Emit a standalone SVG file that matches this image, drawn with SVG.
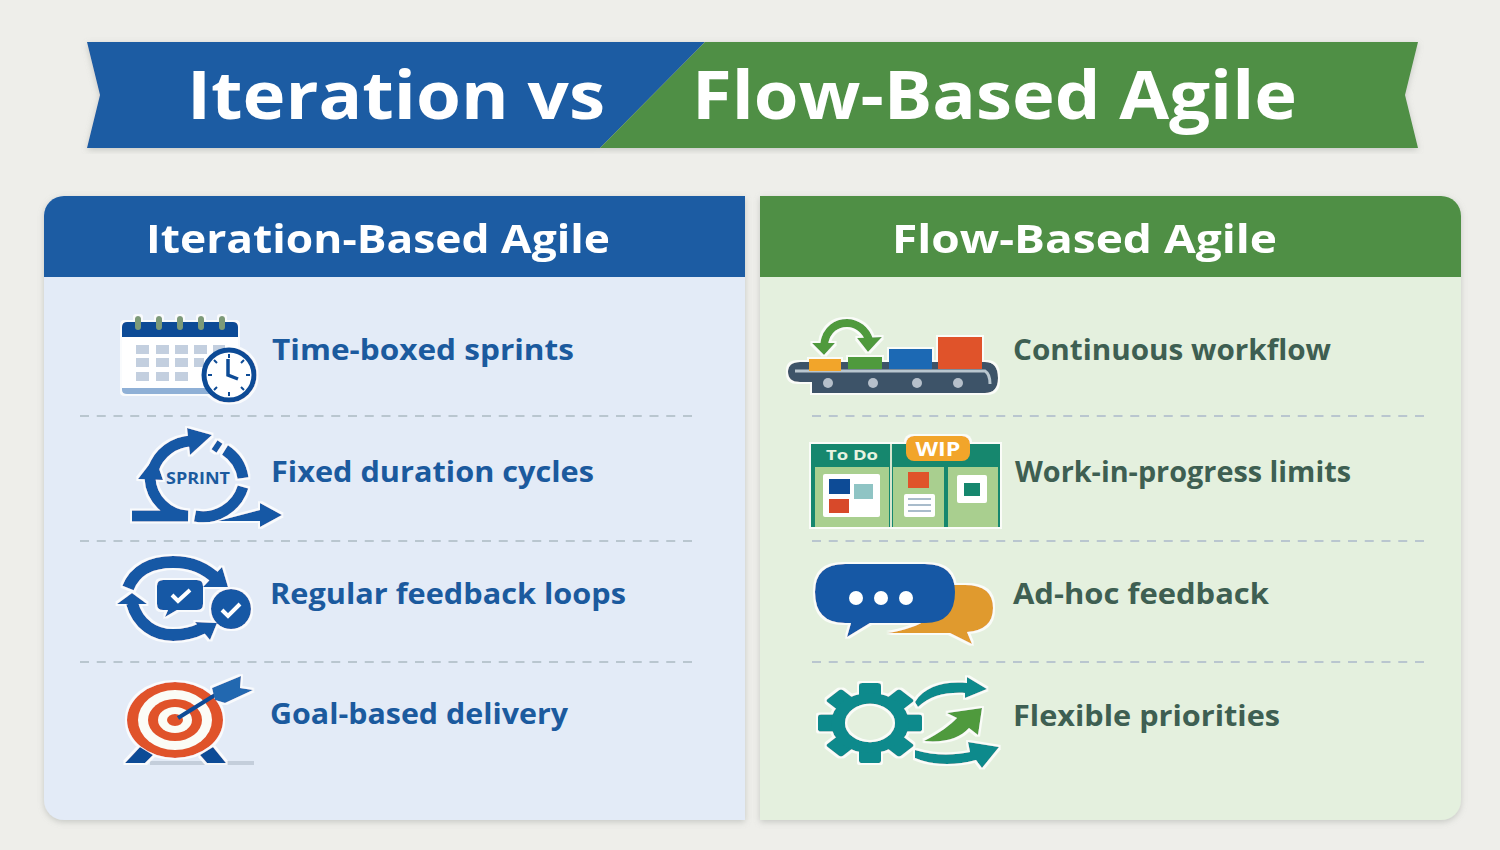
<svg xmlns="http://www.w3.org/2000/svg" xmlns:xlink="http://www.w3.org/1999/xlink" width="1500" height="850" viewBox="0 0 1500 850">
<style>
text{font-family:"Open Sans","Noto Sans","Liberation Sans",sans-serif;font-weight:700}
.title{font-size:66px;fill:#fff}
.head{font-size:39px;fill:#fff}
.lb{font-size:29px;fill:#1b5a9e}
.lg{font-size:29px;fill:#3e5f52}
.dash{fill:none;stroke:#b9c6cf;stroke-width:2;stroke-dasharray:9 7.75}
.blue{fill:#1459a5}
.navy{fill:#0f4c96}
.teal{fill:#0f8a8c}
.ln{fill:none;stroke-linecap:butt}
</style>
<defs>
<filter id="halo" x="-15%" y="-15%" width="130%" height="130%">
<feMorphology in="SourceAlpha" operator="dilate" radius="1.5" result="d"/>
<feFlood flood-color="#fff" flood-opacity="0.8"/>
<feComposite in2="d" operator="in" result="w"/>
<feMerge><feMergeNode in="w"/><feMergeNode in="SourceGraphic"/></feMerge>
</filter>
<filter id="sh" x="-5%" y="-5%" width="110%" height="110%">
<feDropShadow dx="0" dy="2" stdDeviation="3" flood-color="#8a8f8a" flood-opacity="0.4"/>
</filter>
<rect id="tooth" x="-11" y="-52" width="22" height="22" rx="3"/>
</defs>
<rect width="1500" height="850" fill="#eeeeea"/>

<g id="banner" filter="url(#sh)">
<polygon points="87,42 705,42 600,148 87,148 100,95" fill="#1b5ca3"/>
<polygon points="705,42 1418,42 1405,95 1418,148 600,148" fill="#4f8f45"/>
<text class="title" x="187" y="119" textLength="418" lengthAdjust="spacingAndGlyphs">Iteration vs</text>
<text class="title" x="692" y="119" textLength="605" lengthAdjust="spacingAndGlyphs">Flow-Based Agile</text>
</g>

<g id="panel-iteration" filter="url(#sh)">
<path d="M64,196H745V820H64A20,20 0 0 1 44,800V216A20,20 0 0 1 64,196Z" fill="#e3ebf7"/>
<path d="M64,196H745V277H44V216A20,20 0 0 1 64,196Z" fill="#1b5ca3"/>
<text class="head" x="146" y="253" textLength="464" lengthAdjust="spacingAndGlyphs">Iteration-Based Agile</text>
</g>
<g id="panel-flow" filter="url(#sh)">
<path d="M760,196H1441A20,20 0 0 1 1461,216V800A20,20 0 0 1 1441,820H760Z" fill="#e4f0de"/>
<path d="M760,196H1441A20,20 0 0 1 1461,216V277H760Z" fill="#4f8f45"/>
<text class="head" x="892" y="253" textLength="385" lengthAdjust="spacingAndGlyphs">Flow-Based Agile</text>
</g>

<g id="dividers">
<path class="dash" d="M80,416H692M80,541H692M80,662H692M812,416H1424M812,541H1424M812,662H1424"/>
</g>

<g id="item-time-boxed">
<g filter="url(#halo)">
<rect x="122" y="322" width="116" height="72" rx="5" fill="#fff"/>
<path d="M122,388H238V390Q238,394 233,394H127Q122,394 122,390Z" fill="#8fb0d6"/>
<path d="M127,322H233Q238,322 238,327V337H122V327Q122,322 127,322Z" class="navy"/>
<g fill="#c3cfdf">
<rect x="136" y="345" width="13" height="9"/><rect x="156" y="345" width="13" height="9"/><rect x="175" y="345" width="13" height="9"/><rect x="194" y="345" width="13" height="9"/><rect x="213" y="345" width="12" height="9"/>
<rect x="136" y="358" width="13" height="9"/><rect x="156" y="358" width="13" height="9"/><rect x="175" y="358" width="13" height="9"/><rect x="194" y="358" width="10" height="9"/>
<rect x="136" y="372" width="13" height="9"/><rect x="156" y="372" width="13" height="9"/><rect x="175" y="372" width="13" height="9"/>
</g>
<g fill="#7d9a78">
<rect x="135" y="316" width="6" height="14" rx="3"/><rect x="156" y="316" width="6" height="14" rx="3"/><rect x="177" y="316" width="6" height="14" rx="3"/><rect x="198" y="316" width="6" height="14" rx="3"/><rect x="219" y="316" width="6" height="14" rx="3"/>
</g>
<circle cx="229" cy="375" r="25" fill="#fff" stroke="#0f4c96" stroke-width="5"/>
<path d="M228,359V375L238,379" fill="none" stroke="#0f4c96" stroke-width="3.5"/>
<path d="M229,354v4M229,392v4M208,375h4M246,375h4M214,360l3,3M244,360l-3,3M214,390l3,-3M244,390l-3,-3" stroke="#0f4c96" stroke-width="2"/>
</g>
<text class="lb" x="272" y="360" textLength="302" lengthAdjust="spacingAndGlyphs">Time-boxed sprints</text>
</g>

<g id="item-fixed-duration">
<g filter="url(#halo)">
<path class="ln" d="M132,516H188A40,40 0 0 1 150,478" stroke="#1459a5" stroke-width="11"/>
<polygon points="138,479 155,457 163,480" class="blue"/>
<path class="ln" d="M153,470A42,42 0 0 1 192,441" stroke="#1459a5" stroke-width="11"/>
<polygon points="187,428 212,435 190,455" class="blue"/>
<path class="ln" d="M214,451L220,442" stroke="#1459a5" stroke-width="6"/>
<path class="ln" d="M225,450A40,40 0 0 1 243,478" stroke="#1459a5" stroke-width="11"/>
<path class="ln" d="M243,487A42,42 0 0 1 195,516" stroke="#1459a5" stroke-width="11"/>
<polygon points="218,521 260,510 260,503 282,515 260,527 260,521" class="blue"/>
</g>
<text x="198" y="484" text-anchor="middle" font-size="16" fill="#1b5a9e" textLength="64" lengthAdjust="spacingAndGlyphs">SPRINT</text>
<text class="lb" x="271" y="482" textLength="323" lengthAdjust="spacingAndGlyphs">Fixed duration cycles</text>
</g>

<g id="item-feedback-loops">
<g filter="url(#halo)">
<path class="ln" d="M128,588C135,570 152,562 173,562C192,562 205,568 218,580" stroke="#1459a5" stroke-width="12"/>
<polygon points="222,567 228,587 203,587" class="blue"/>
<path class="ln" d="M132,603C138,625 155,635 173,635C185,635 195,632 203,628" stroke="#1459a5" stroke-width="12"/>
<polygon points="195,622 217,623 210,640" class="blue"/>
<polygon points="132,593 117,604 147,604" class="blue"/>
<path d="M163,580H197Q203,580 203,586V604Q203,610 197,610H177L165,617L168,610H163Q157,610 157,604V586Q157,580 163,580Z" class="blue"/>
<path d="M172,595L178,601L190,590" fill="none" stroke="#fff" stroke-width="4"/>
<circle cx="231" cy="609" r="20" class="blue"/>
<path d="M222,610L228,616L240,604" fill="none" stroke="#fff" stroke-width="4"/>
</g>
<text class="lb" x="270" y="604" textLength="356" lengthAdjust="spacingAndGlyphs">Regular feedback loops</text>
</g>

<g id="item-goal-delivery">
<rect x="150" y="761" width="104" height="4" fill="#c4cedb"/>
<g filter="url(#halo)">
<polygon points="125,763 140,747 153,755 145,763" class="navy"/>
<polygon points="200,755 213,747 226,763 207,763" class="navy"/>
<ellipse cx="175" cy="720" rx="48" ry="38" fill="#e0522b"/>
<ellipse cx="175" cy="720" rx="37" ry="30" fill="#fbfcf6"/>
<ellipse cx="175" cy="720" rx="27" ry="21" fill="#e0522b"/>
<ellipse cx="175" cy="720" rx="17" ry="13" fill="#fbfcf6"/>
<ellipse cx="175" cy="720" rx="8" ry="6" fill="#e0522b"/>
<path d="M178,718L215,695" stroke="#0f4c96" stroke-width="4"/>
<polygon points="212,688 241,676 240,688 253,690 225,703 215,700" fill="#2468b0"/>
</g>
<text class="lb" x="270" y="724" textLength="298" lengthAdjust="spacingAndGlyphs">Goal-based delivery</text>
</g>

<g id="item-continuous-workflow">
<g filter="url(#halo)">
<path d="M800,362H985Q998,362 998,378Q998,393 985,393H812V382H800Q788,382 788,372Q788,362 800,362Z" fill="#3d5367"/>
<path d="M795,371H985Q990,374 990,384" fill="none" stroke="#b9c6cf" stroke-width="3"/>
<g fill="#b6c0cb"><circle cx="828" cy="383" r="5"/><circle cx="873" cy="383" r="5"/><circle cx="917" cy="383" r="5"/><circle cx="958" cy="383" r="5"/></g>
<rect x="809" y="359" width="32" height="12" fill="#f2a52a"/>
<rect x="848" y="357" width="34" height="12" fill="#4f9a3d"/>
<rect x="889" y="349" width="43" height="20" fill="#1f69b4"/>
<rect x="938" y="337" width="44" height="32" fill="#e0522b"/>
<path class="ln" d="M824,345C826,328 838,323 847,323C857,323 866,330 869,340" stroke="#4f9a3d" stroke-width="8"/>
<polygon points="812,343 835,343 824,355" fill="#4f9a3d"/>
<polygon points="857,338 882,337 868,352" fill="#4f9a3d"/>
</g>
<text class="lg" x="1013" y="360" textLength="318" lengthAdjust="spacingAndGlyphs">Continuous workflow</text>
</g>

<g id="item-wip-limits">
<g filter="url(#halo)">
<rect x="811" y="444" width="189" height="83" fill="#17876e"/>
<rect x="815" y="467" width="74" height="60" fill="#a9cf8f"/>
<rect x="893" y="467" width="51" height="60" fill="#a9cf8f"/>
<rect x="948" y="467" width="50" height="60" fill="#a9cf8f"/>
<rect x="890" y="444" width="2" height="83" fill="#d7e6cf"/>
<rect x="823" y="474" width="57" height="43" rx="2" fill="#fff"/>
<rect x="829" y="479" width="21" height="15" class="navy"/>
<rect x="854" y="484" width="19" height="15" fill="#8fc4c4"/>
<rect x="829" y="499" width="20" height="14" fill="#d8482a"/>
<rect x="908" y="472" width="21" height="16" fill="#e0522b"/>
<rect x="904" y="494" width="31" height="23" rx="2" fill="#fff"/>
<path d="M908,499H931M908,505H931M908,511H931" stroke="#a9bccb" stroke-width="2"/>
<rect x="957" y="475" width="30" height="28" rx="2" fill="#fff"/>
<rect x="964" y="483" width="16" height="13" fill="#17876e"/>
<rect x="906" y="436" width="64" height="25" rx="8" fill="#f2a52a"/>
</g>
<text x="852" y="460" text-anchor="middle" font-size="15" fill="#e8f3e0" textLength="52" lengthAdjust="spacingAndGlyphs">To Do</text>
<text x="938" y="456" text-anchor="middle" font-size="20" fill="#fff" textLength="45" lengthAdjust="spacingAndGlyphs">WIP</text>
<text class="lg" x="1015" y="482" textLength="336" lengthAdjust="spacingAndGlyphs">Work-in-progress limits</text>
</g>

<g id="item-adhoc-feedback">
<g filter="url(#halo)">
<path d="M950,585H965Q993,585 993,608Q993,630 967,632L972,644L950,633H888C920,628 945,615 950,585Z" fill="#e09a2e"/>
<path d="M845,564H925Q955,564 955,592Q955,623 925,623H870L847,637L851,623H845Q815,623 815,592Q815,564 845,564Z" fill="#1459a5"/>
<g fill="#fff"><circle cx="856" cy="598" r="7"/><circle cx="881" cy="598" r="7"/><circle cx="906" cy="598" r="7"/></g>
</g>
<text class="lg" x="1013" y="604" textLength="256" lengthAdjust="spacingAndGlyphs">Ad-hoc feedback</text>
</g>

<g id="item-flexible-priorities">
<g filter="url(#halo)">
<g class="teal" transform="translate(870,723) scale(1,0.77)">
<use xlink:href="#tooth"/><use xlink:href="#tooth" transform="rotate(45)"/><use xlink:href="#tooth" transform="rotate(90)"/><use xlink:href="#tooth" transform="rotate(135)"/><use xlink:href="#tooth" transform="rotate(180)"/><use xlink:href="#tooth" transform="rotate(225)"/><use xlink:href="#tooth" transform="rotate(270)"/><use xlink:href="#tooth" transform="rotate(315)"/>
<circle r="32" fill="none" stroke="#0f8a8c" stroke-width="14"/>
</g>
<path d="M915,702C925,686 945,681 967,683V677L987,689L965,698V693C945,692 930,696 918,707Z" class="teal"/>
<path d="M915,750C935,756 955,755 970,752L968,742L999,747L982,768L976,760C955,766 930,765 915,758Z" class="teal"/>
<path d="M924,741C940,733 950,725 957,718L947,713L982,708L978,735L969,728C960,738 945,743 924,741Z" fill="#4f9a3d"/>
</g>
<text class="lg" x="1013" y="726" textLength="267" lengthAdjust="spacingAndGlyphs">Flexible priorities</text>
</g>
</svg>
